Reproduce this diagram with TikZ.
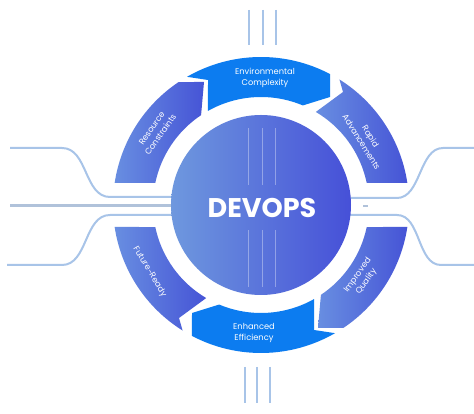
\documentclass[tikz,border=0pt]{standalone}
\usepackage{fontspec}
\setmainfont{Poppins}
\usetikzlibrary{calc}
\begin{document}
\begin{tikzpicture}[x=1pt,y=1pt]
\definecolor{brightblue}{RGB}{12,124,240}
\definecolor{segL}{RGB}{104,142,225}
\definecolor{segR}{RGB}{70,84,214}
\definecolor{circL}{RGB}{110,152,222}
\definecolor{circR}{RGB}{70,80,216}
\definecolor{wire}{RGB}{168,196,232}
\definecolor{wiremid}{RGB}{176,194,218}
\tikzset{
  seg/.style={left color=segL,right color=segR},
  hiseg/.style={fill=brightblue},
  lbl/.style={text=white,font=\fontsize{8.3}{10.8}\selectfont,align=center,inner sep=0pt},
  wireline/.style={draw=wire,line width=2pt},
  midwire/.style={draw=wiremid,line width=3pt},
  inline/.style={draw=white,draw opacity=0.35,line width=0.8pt},
}
\useasboundingbox (0,0) rectangle (474,414);
\fill[white] (0,0) rectangle (474,414);
\coordinate (C) at (261,209);
% wires left
\coordinate (lt0) at (10,266);
\coordinate (lt1) at (190,217);
\coordinate (lm0) at (10,208);
\coordinate (lm1) at (190,208);
\coordinate (lb0) at (7,149);
\coordinate (lb1) at (190,199);
\draw[wireline] (lt0) -- (62,266) .. controls (88,266) and (84,217) .. (110,217) -- (lt1);
\draw[midwire] (lm0) -- (lm1);
\draw[wireline] (lb0) -- (62,149) .. controls (88,149) and (84,199) .. (110,199) -- (lb1);
% wires right
\coordinate (rt0) at (330,216);
\coordinate (rt1) at (474,266);
\coordinate (rb0) at (330,199);
\coordinate (rb1) at (474,149);
\coordinate (rm0) at (363,208);
\coordinate (rm1) at (368,208);
\draw[wireline] (rt0) -- (397,216) .. controls (421,216) and (419,266) .. (443,266) -- (rt1);
\draw[wireline] (rb0) -- (397,199) .. controls (421,199) and (417,149) .. (441,149) -- (rb1);
\draw[draw=wiremid,line width=2pt] (rm0) -- (rm1);
% vertical lines top and bottom
\foreach \x in {249,263,276} {\draw[wireline] (\x,404) -- (\x,369);}
\foreach \x in {245,257,270} {\draw[wireline] (\x,47) -- (\x,11);}
% core circle
\node[circle,minimum size=180pt,inner sep=0pt,left color=circL,right color=circR] (core) at (C) {};
\foreach \x in {248,262,275} {
  \draw[inline] (\x,286) -- (\x,229);
  \draw[inline] (\x,184) -- (\x,127);
}
\node[text=white,font=\bfseries\fontsize{27}{30}\selectfont,inner sep=0pt] (title) at ($(C)+(1,-3)$) {DEVOPS};
\begin{scope}[shift={(C)}]
% top: Environmental Complexity
\fill[hiseg] (120:148) arc[start angle=120,end angle=62.2,radius=148] -- (69,108) -- (67.2:108) arc[start angle=67.2,end angle=119.4,radius=108] -- (-53,125) -- cycle;
% Resource Constraints
\shade[seg] (171.45:148) arc[start angle=171.45,end angle=123.8,radius=148] -- (-57,123) -- (123.7:108) arc[start angle=123.7,end angle=168.24,radius=108] -- cycle;
% Rapid Advancements
\shade[seg] (8.55:148) arc[start angle=8.55,end angle=58,radius=148] -- (82,113) -- (59.5:108) arc[start angle=59.5,end angle=11.76,radius=108] -- cycle;
% bottom: Enhanced Efficiency
\fill[hiseg] (300:148) arc[start angle=300,end angle=242.2,radius=148] -- (-69,-108) -- (247.2:108) arc[start angle=247.2,end angle=299.4,radius=108] -- (53,-125) -- cycle;
% Improved Quality
\shade[seg] (-8.55:148) arc[start angle=-8.55,end angle=-56.2,radius=148] -- (57,-123) -- (-56.3:108) arc[start angle=-56.3,end angle=-11.76,radius=108] -- cycle;
% Future-Ready
\shade[seg] (188.55:148) arc[start angle=188.55,end angle=238,radius=148] -- (-82,-113) -- (239.5:108) arc[start angle=239.5,end angle=191.76,radius=108] -- cycle;
% labels
\node[lbl] (env) at (4,127) {Environmental\\Complexity};
\node[lbl] (enh) at (-7,-128) {Enhanced\\Efficiency};
\node[lbl,rotate=55] (res) at (145:128) {Resource\\Constraints};
\node[lbl,rotate=-58] (rap) at (32:124) {Rapid\\Advancements};
\node[lbl,rotate=-59] (fut) at (211:130) {Future-Ready};
\node[lbl,rotate=54] (imp) at (-36:125) {Improved\\Quality};
\end{scope}
\end{tikzpicture}
\end{document}
